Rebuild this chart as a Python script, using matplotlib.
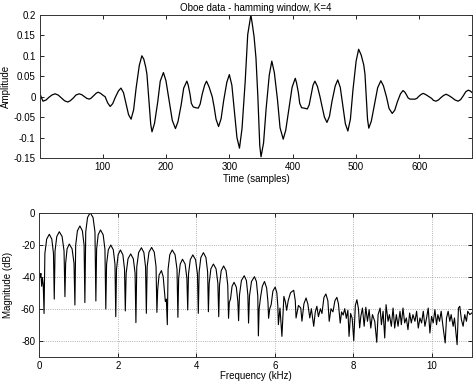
import matplotlib
matplotlib.use("Agg")
import matplotlib.pyplot as plt

plt.rcParams['font.family'] = ['Liberation Sans', 'DejaVu Sans']
plt.rcParams['font.size'] = 7
plt.rcParams['axes.unicode_minus'] = False

# waveform (sample index, amplitude)
samples = [1, 2, 4, 6, 11, 15, 20, 25, 30, 35, 40, 45, 49, 54, 58, 63, 67, 71, 75, 79,
           82, 86, 90, 93, 97, 101, 104, 108, 112, 116, 120, 125, 129, 133, 137, 141, 145, 149, 153, 158,
           162, 165, 168, 170, 173, 176, 178, 182, 187, 191, 196, 200, 205, 210, 215, 219, 224, 228, 233, 235,
           238, 240, 243, 247, 251, 254, 257, 261, 264, 268, 273, 276, 279, 283, 287, 291, 296, 300, 304, 308,
           312, 316, 320, 325, 329, 334, 336, 339, 342, 345, 348, 350, 354, 358, 363, 367, 371, 376, 380, 385,
           389, 394, 399, 404, 406, 409, 411, 414, 418, 423, 426, 429, 432, 435, 439, 443, 446, 450, 454, 458,
           462, 467, 471, 475, 479, 483, 487, 491, 495, 500, 504, 508, 512, 514, 516, 518, 520, 524, 529, 534,
           539, 543, 548, 552, 557, 561, 565, 570, 574, 577, 580, 582, 585, 589, 593, 596, 599, 603, 606, 610,
           615, 619, 622, 626, 630, 634, 638, 642, 646, 651, 656, 661, 665, 669, 673, 677, 680, 683]
amplitude = [0.003, 0.004, -0.004, -0.011, -0.008, -0.002, 0.004, 0.007, 0.004, -0.003, -0.010, -0.013, -0.010, -0.003, 0.004, 0.007, 0.005, 0.0005, -0.004, -0.006,
             -0.0035, 0.0025, 0.0085, 0.011, 0.008, 0.003, 0.0, -0.015, -0.024, -0.017, -0.002, 0.014, 0.021, 0.010, -0.017, -0.044, -0.055, -0.032, 0.022, 0.077,
             0.100, 0.092, 0.073, 0.055, -0.005, -0.068, -0.086, -0.065, -0.013, 0.038, 0.059, 0.039, -0.010, -0.058, -0.078, -0.061, -0.020, 0.021, 0.038, 0.029,
             0.006, -0.016, -0.025, -0.027, -0.028, -0.018, 0.005, 0.028, 0.038, 0.024, 0.0, -0.025, -0.055, -0.073, -0.054, -0.010, 0.035, 0.054, 0.028, -0.036,
             -0.100, -0.126, -0.078, 0.037, 0.152, 0.200, 0.180, 0.147, 0.095, 0.0, -0.120, -0.147, -0.113, -0.030, 0.053, 0.087, 0.059, -0.008, -0.076, -0.104,
             -0.082, -0.030, 0.023, 0.045, 0.034, 0.009, -0.016, -0.027, -0.028, -0.030, -0.020, 0.004, 0.028, 0.038, 0.025, 0.0, -0.022, -0.050, -0.063, -0.048,
             -0.011, 0.026, 0.041, 0.023, -0.021, -0.066, -0.084, -0.055, 0.016, 0.087, 0.116, 0.102, 0.078, 0.055, 0.0, -0.055, -0.077, -0.060, -0.019, 0.022,
             0.039, 0.027, -0.001, -0.029, -0.041, -0.033, -0.013, 0.007, 0.015, 0.011, 0.003, -0.003, -0.006, -0.006, -0.006, -0.004, 0.001, 0.006, 0.008, 0.005,
             0.0, -0.004, -0.009, -0.011, -0.008, -0.002, 0.003, 0.006, 0.003, -0.002, -0.008, -0.011, -0.007, 0.002, 0.012, 0.016, 0.014, 0.010]

# magnitude spectrum (kHz, dB)
freq_khz = [0.00, 0.02, 0.04, 0.06, 0.08, 0.10, 0.12, 0.141, 0.187, 0.254, 0.317, 0.36, 0.38, 0.40, 0.444, 0.508, 0.58, 0.629, 0.652, 0.67,
            0.707, 0.762, 0.834, 0.883, 0.906, 0.926, 0.97, 1.033, 1.096, 1.14, 1.16, 1.182, 1.228, 1.295, 1.368, 1.417, 1.44, 1.459, 1.499, 1.558,
            1.626, 1.671, 1.693, 1.713, 1.757, 1.82, 1.884, 1.927, 1.947, 1.966, 2.007, 2.066, 2.128, 2.17, 2.19, 2.212, 2.259, 2.327, 2.394, 2.439,
            2.46, 2.482, 2.53, 2.6, 2.663, 2.706, 2.726, 2.747, 2.793, 2.86, 2.928, 2.973, 2.995, 3.015, 3.05, 3.11, 3.155, 3.19, 3.21, 3.235,
            3.26, 3.28, 3.323, 3.385, 3.458, 3.507, 3.53, 3.549, 3.589, 3.647, 3.714, 3.759, 3.78, 3.80, 3.845, 3.91, 3.98, 4.028, 4.05, 4.071,
            4.115, 4.18, 4.244, 4.287, 4.307, 4.327, 4.37, 4.434, 4.502, 4.548, 4.57, 4.59, 4.633, 4.695, 4.758, 4.80, 4.82, 4.84, 4.87, 4.91,
            4.96, 5.018, 5.057, 5.076, 5.099, 5.148, 5.22, 5.275, 5.312, 5.33, 5.354, 5.405, 5.48, 5.53, 5.565, 5.58, 5.60, 5.635, 5.68, 5.736,
            5.79, 5.825, 5.84, 5.87, 5.906, 5.95, 6.008, 6.05, 6.075, 6.09, 6.13, 6.18, 6.23, 6.27, 6.30, 6.34, 6.40, 6.48, 6.52, 6.54,
            6.60, 6.66, 6.69, 6.74, 6.795, 6.84, 6.89, 6.93, 6.99, 7.03, 7.07, 7.11, 7.16, 7.20, 7.25, 7.30, 7.35, 7.385, 7.43, 7.48,
            7.53, 7.58, 7.62, 7.665, 7.70, 7.74, 7.78, 7.82, 7.86, 7.89, 7.93, 7.97, 8.01, 8.05, 8.09, 8.13, 8.16, 8.19, 8.232, 8.275,
            8.317, 8.359, 8.402, 8.444, 8.486, 8.545, 8.596, 8.63, 8.681, 8.715, 8.757, 8.799, 8.833, 8.884, 8.918, 8.968, 9.011, 9.053, 9.095, 9.138,
            9.188, 9.222, 9.264, 9.307, 9.349, 9.391, 9.434, 9.476, 9.518, 9.569, 9.611, 9.654, 9.696, 9.738, 9.781, 9.823, 9.865, 9.907, 9.95, 9.992,
            10.034, 10.077, 10.119, 10.153, 10.195, 10.237, 10.288, 10.339, 10.373, 10.415, 10.457, 10.491, 10.542, 10.576, 10.643, 10.677, 10.711, 10.753, 10.796, 10.838,
            10.88, 10.914, 10.965, 11.016]
magnitude_db = [-37.5, -40, -38, -46, -41, -45, -63, -25.5, -16.5, -13.5, -16.5, -25.5, -54, -23.9, -14.9, -11.9, -14.9, -23.9, -52.5, -31.6,
                -22.6, -19.6, -22.6, -31.6, -57.7, -20.3, -11.3, -8.3, -11.3, -20.3, -56.2, -12, -3, 0, -3, -12, -55.2, -22.8, -13.8, -10.8,
                -13.8, -22.8, -60.2, -32.2, -23.2, -20.2, -23.2, -32.2, -65, -35.3, -26.3, -23.3, -26.3, -35.3, -61.4, -37.8, -28.8, -25.8, -28.8, -37.8,
                -68.7, -33.9, -24.9, -21.9, -24.9, -33.9, -62.9, -33.7, -24.7, -21.7, -24.7, -33.7, -62.3, -48, -39, -36.2, -40, -50, -55.5, -54,
                -70, -35.3, -26.3, -23.3, -26.3, -35.3, -65.4, -41.1, -32.1, -29.1, -32.1, -41.1, -60.8, -38.4, -29.4, -26.4, -29.4, -38.4, -62.9, -37,
                -28, -25, -28, -37, -61.9, -44.1, -35.1, -32.1, -35.1, -44.1, -65, -45.3, -36.3, -33.3, -36.3, -45.3, -66, -56, -54, -46,
                -43.5, -46.5, -55.5, -67.5, -51.4, -42.4, -39.4, -42.4, -51.4, -69, -52, -43, -40, -43, -52, -77, -60, -53, -46, -43,
                -47, -56, -66, -60, -57.5, -49, -46.5, -50, -58, -70, -59.6, -77.3, -52.3, -56, -61, -55, -50, -48.5, -55, -65.8,
                -58, -59.6, -67.8, -57, -53.3, -57, -65.8, -60, -71, -62, -58.5, -65, -60, -63, -53, -50.8, -55, -67.9, -60, -62,
                -55, -52.9, -57, -69, -62, -64, -60, -66, -61, -77.3, -63, -66, -80, -58, -54.4, -60, -72, -64.8, -59.6, -71.0,
                -59.1, -67.9, -60.6, -72.1, -63.7, -67.9, -81.0, -63.7, -59.6, -70.0, -61.6, -78.3, -57.5, -67.9, -63.7, -71.0, -59.6, -72.1, -63.7, -71.0,
                -61.6, -70.0, -59.6, -68.9, -65.8, -73.1, -62.7, -68.9, -63.7, -67.9, -61.6, -72.1, -65.8, -68.9, -61.6, -71.0, -65.8, -59.6, -75.2, -64.8,
                -68.9, -60.6, -70.0, -63.7, -67.9, -61.6, -72.1, -81.4, -65.8, -61.6, -67.9, -63.7, -71.0, -65.8, -82.5, -59.6, -58.5, -66.9, -71.0, -63.7,
                -67.9, -61.6, -63.7, -62.7]

time_ticks = [100, 200, 300, 400, 500, 600]
amp_ticks = [-0.15, -0.1, -0.05, 0, 0.05, 0.1, 0.15, 0.2]
amp_labels = ['-0.15', '-0.1', '-0.05', '0', '0.05', '0.1', '0.15', '0.2']
freq_ticks = [0, 2, 4, 6, 8, 10]
db_ticks = [-80, -60, -40, -20, 0]

fig = plt.figure(figsize=(4.74, 3.83), dpi=100)
ax1 = fig.add_axes([0.084, 0.5875, 0.912, 0.3735])
ax2 = fig.add_axes([0.083, 0.0687, 0.913, 0.3760])

for ax in (ax1, ax2):
    ax.tick_params(direction='in', length=3, width=0.6, top=True, right=True, pad=3)
    for sp in ax.spines.values():
        sp.set_linewidth(0.7)
        sp.set_color('#333333')

ax1.plot(samples, amplitude, color='black', linewidth=0.9)
ax1.set_xlim(1, 683)
ax1.set_ylim(-0.15, 0.2)
ax1.set_xticks(time_ticks)
ax1.set_yticks(amp_ticks)
ax1.set_yticklabels(amp_labels)
ax1.set_title('Oboe data - hamming window, K=4', fontsize=7, pad=3)
ax1.set_xlabel('Time (samples)')
ax1.set_ylabel('Amplitude')
ax1.xaxis.set_label_coords(0.5, -0.11)
ax1.yaxis.set_label_coords(-0.066, 0.5)

ax2.plot(freq_khz, magnitude_db, color='black', linewidth=0.8)
ax2.set_xlim(0, 11.025)
ax2.set_ylim(-90, 0)
ax2.set_xticks(freq_ticks)
ax2.set_yticks(db_ticks)
ax2.grid(True, linestyle=':', linewidth=0.6, color='#999999')
ax2.set_xlabel('Frequency (kHz)')
ax2.set_ylabel('Magnitude (dB)')
ax2.xaxis.set_label_coords(0.5, -0.10)
ax2.yaxis.set_label_coords(-0.062, 0.5)

fig.savefig('out.png', dpi=100)
